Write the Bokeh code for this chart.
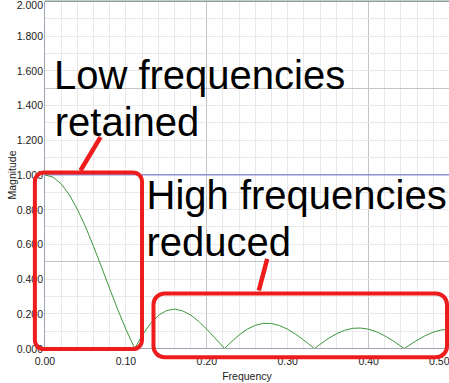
from bokeh.plotting import figure
from bokeh.models import FixedTicker, NumeralTickFormatter, BoxAnnotation, Label
from bokeh.embed import file_html
from bokeh.resources import INLINE

# Frequency response
freq = [0.00, 0.01, 0.02, 0.03, 0.04, 0.05, 0.06, 0.07, 0.08, 0.09, 0.10, 0.111,
        0.12, 0.13, 0.14, 0.15, 0.16, 0.17, 0.18, 0.19, 0.20, 0.21, 0.222,
        0.23, 0.24, 0.25, 0.26, 0.27, 0.28, 0.29, 0.30, 0.31, 0.32, 0.333,
        0.34, 0.35, 0.36, 0.37, 0.38, 0.39, 0.40, 0.41, 0.42, 0.43, 0.444,
        0.45, 0.46, 0.47, 0.48, 0.49, 0.50]
magnitude = [1.000, 0.987, 0.948, 0.886, 0.802, 0.702, 0.588, 0.468, 0.344, 0.224, 0.111, 0.000,
             0.075, 0.141, 0.190, 0.218, 0.227, 0.217, 0.193, 0.156, 0.111, 0.061, 0.000,
             0.037, 0.078, 0.111, 0.134, 0.145, 0.144, 0.132, 0.111, 0.082, 0.048, 0.000,
             0.024, 0.057, 0.084, 0.104, 0.116, 0.118, 0.111, 0.096, 0.073, 0.045, 0.000,
             0.018, 0.048, 0.074, 0.094, 0.107, 0.111]
reference_level = 1.0
x_ticks = [0.0, 0.1, 0.2, 0.3, 0.4, 0.5]
y_ticks = [0.0, 0.2, 0.4, 0.6, 0.8, 1.0, 1.2, 1.4, 1.6, 1.8, 2.0]

FONT = "Liberation Sans"
RED = "#ee1c1c"
X0, X1 = x_ticks[0], x_ticks[-1]
Y0, Y1 = y_ticks[0], y_ticks[-1]

# the frame covers the whole canvas; axes sit at the data origin
p = figure(width=449, height=383, x_range=(-0.055, 0.5), y_range=(-0.2016, 2.0046),
           output_backend="svg", toolbar_location=None, title=None,
           min_border_left=0, min_border_right=0, min_border_top=0, min_border_bottom=0,
           background_fill_color="white", border_fill_color="white")
p.outline_line_color = None

# grids
p.xgrid.ticker = FixedTicker(ticks=[0.2, 0.4], minor_ticks=[round(0.02 * k, 2) for k in range(26)])
p.ygrid.ticker = FixedTicker(ticks=[0.5, 1.0, 1.5], minor_ticks=[round(0.1 * k, 1) for k in range(21)])
for g in (p.xgrid, p.ygrid):
    g.grid_line_color = "#c4c4c4"
    g.grid_line_width = 1
    g.minor_grid_line_color = "#e9e9e9"
    g.minor_grid_line_width = 1

# white masks so grid lines stay inside the plotting area
for kw in (dict(right=X0), dict(top=Y0), dict(bottom=Y1)):
    p.add_layout(BoxAnnotation(fill_color="white", fill_alpha=1, line_alpha=0,
                               level="underlay", **kw))

# axes
p.xaxis.fixed_location = Y0
p.yaxis.fixed_location = X0
p.xaxis.bounds = (X0, X1)
p.yaxis.bounds = (Y0, Y1)
p.xaxis.ticker = FixedTicker(ticks=x_ticks)
p.yaxis.ticker = FixedTicker(ticks=y_ticks)
p.xaxis.formatter = NumeralTickFormatter(format="0.00")
p.yaxis.formatter = NumeralTickFormatter(format="0.000")
p.xaxis.axis_label = "Frequency"
p.yaxis.axis_label = "Magnitude"
for ax in (p.xaxis, p.yaxis):
    ax.major_tick_out = 0
    ax.major_tick_in = 0
    ax.minor_tick_out = 0
    ax.minor_tick_in = 0
    ax.axis_line_color = "#a0a4b0"
    ax.major_label_text_font = FONT
    ax.major_label_text_font_size = "10.5px"
    ax.major_label_text_color = "#222222"
    ax.axis_label_text_font = FONT
    ax.axis_label_text_font_size = "10.5px"
    ax.axis_label_text_font_style = "normal"
    ax.axis_label_text_color = "#222222"
p.xaxis.major_label_standoff = 8
p.xaxis.axis_label_standoff = 2
p.yaxis.major_label_standoff = 2
p.yaxis.axis_label_standoff = -5

# top border strip
p.segment(x0=[X0], x1=[X1 + 0.01], y0=[Y1 + 0.004], y1=[Y1 + 0.004],
          line_color="#8a9c9c", line_width=3)

# reference line and curve
p.segment(x0=[X0], x1=[X1], y0=[reference_level], y1=[reference_level],
          line_color="#6f6fd6", line_width=1)
p.line(freq, magnitude, line_color="#3c963c", line_width=1)

# annotation boxes
p.add_layout(BoxAnnotation(left=-0.0125, right=0.1199, bottom=-0.0035, top=1.0138,
                           fill_alpha=0, line_color=RED, line_alpha=1, line_width=4,
                           border_radius=9))
p.add_layout(BoxAnnotation(left=0.1341, right=0.4969, bottom=-0.0501, top=0.3168,
                           fill_alpha=0, line_color=RED, line_alpha=1, line_width=4,
                           border_radius=11))

# pointer lines
p.segment(x0=[0.0686, 0.2747], y0=[1.2172, 0.5167], x1=[0.0439, 0.2643], y1=[1.0253, 0.3341],
          line_color=RED, line_width=4.5)

# big labels
for txt, x, y in [("Low frequencies", 0.0110, 1.575), ("retained", 0.0120, 1.3044),
                  ("High frequencies", 0.1255, 0.8839), ("reduced", 0.1255, 0.6132)]:
    p.add_layout(Label(x=x, y=y, text=txt, text_font=FONT, text_font_size="40px",
                       text_color="black", text_baseline="alphabetic"))

open("out.html", "w").write(file_html(p, INLINE))
